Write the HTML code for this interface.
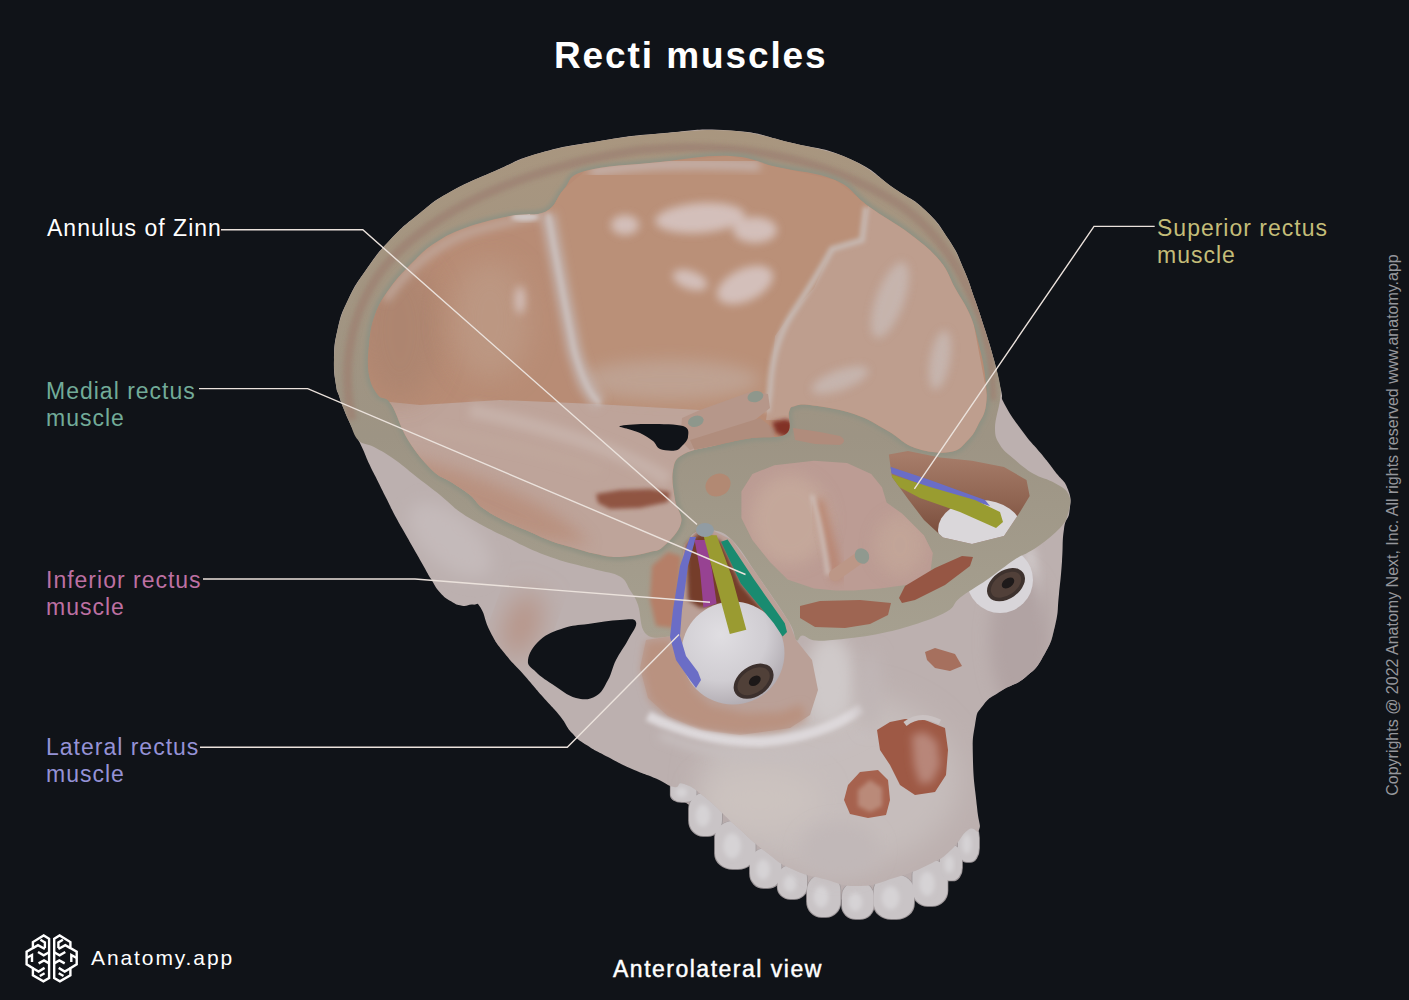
<!DOCTYPE html>
<html><head><meta charset="utf-8">
<style>
html,body{margin:0;padding:0;background:#101318;}
body{width:1409px;height:1000px;position:relative;overflow:hidden;font-family:"Liberation Sans",sans-serif;}
.t{position:absolute;white-space:nowrap;line-height:1;}
.lbl{font-size:23px;letter-spacing:1px;line-height:26.5px;}
#title{left:554px;top:36.5px;font-size:37px;font-weight:bold;color:#fff;letter-spacing:1.9px;}
svg{position:absolute;left:0;top:0;}
</style></head><body>
<svg width="1409" height="1000" viewBox="0 0 1409 1000">
<defs>
<filter id="b2" x="-20%" y="-20%" width="140%" height="140%"><feGaussianBlur stdDeviation="2"/></filter>
<filter id="b4" x="-30%" y="-30%" width="160%" height="160%"><feGaussianBlur stdDeviation="4"/></filter>
<filter id="b8" x="-50%" y="-50%" width="200%" height="200%"><feGaussianBlur stdDeviation="8"/></filter>
<filter id="b14" x="-50%" y="-50%" width="200%" height="200%"><feGaussianBlur stdDeviation="14"/></filter>
<clipPath id="cInt"><path d="M369.0,375.0 C367.2,365.0 367.8,357.0 369.0,345.0 C370.2,333.0 370.8,326.4 375.0,315.0 C379.2,303.6 382.2,298.8 390.0,288.0 C397.8,277.2 405.0,270.0 414.0,261.0 C423.0,252.0 424.8,249.6 435.0,243.0 C445.2,236.4 450.0,233.4 465.0,228.0 C480.0,222.6 493.8,219.3 510.0,216.0 C526.2,212.7 535.2,216.9 546.0,211.5 C556.8,206.1 556.2,197.1 564.0,189.0 C571.8,180.9 565.8,176.4 585.0,171.0 C604.2,165.6 631.0,165.0 660.0,162.0 C689.0,159.0 706.6,155.0 730.0,156.0 C753.4,157.0 756.0,162.2 777.0,167.0 C798.0,171.8 816.8,172.2 835.0,180.0 C853.2,187.8 853.0,195.2 868.0,206.0 C883.0,216.8 895.6,223.0 910.0,234.0 C924.4,245.0 931.0,250.2 940.0,261.0 C949.0,271.8 949.0,277.2 955.0,288.0 C961.0,298.8 965.2,303.6 970.0,315.0 C974.8,326.4 976.0,333.0 979.0,345.0 C982.0,357.0 983.6,363.0 985.0,375.0 C986.4,387.0 987.4,395.0 986.0,405.0 C984.6,415.0 981.6,418.0 978.0,425.0 C974.4,432.0 973.6,434.6 968.0,440.0 C962.4,445.4 960.6,450.4 950.0,452.0 C939.4,453.6 927.4,452.2 915.0,448.0 C902.6,443.8 900.2,437.8 888.0,431.0 C875.8,424.2 869.0,419.1 854.0,414.0 C839.0,408.9 824.8,407.1 813.0,405.5 C801.2,403.9 799.8,404.7 795.0,406.0 C790.2,407.3 790.8,406.4 789.0,412.0 C787.2,417.6 793.4,428.8 786.0,434.0 C778.6,439.2 765.6,435.8 752.0,438.0 C738.4,440.2 731.6,441.8 718.0,445.0 C704.4,448.2 693.0,449.0 684.0,454.0 C675.0,459.0 674.8,460.8 673.0,470.0 C671.2,479.2 673.4,489.4 675.0,500.0 C676.6,510.6 683.2,513.8 681.0,523.0 C678.8,532.2 670.2,540.2 664.0,546.0 C657.8,551.8 658.8,549.8 650.0,552.0 C641.2,554.2 630.8,556.6 620.0,557.0 C609.2,557.4 605.2,555.8 596.0,554.0 C586.8,552.2 583.0,550.6 574.0,548.0 C565.0,545.4 560.2,544.4 551.0,541.0 C541.8,537.6 537.2,535.0 528.0,531.0 C518.8,527.0 514.1,525.6 505.0,521.0 C495.9,516.4 489.7,513.2 482.7,508.0 C475.7,502.8 476.3,500.2 470.0,495.0 C463.7,489.8 458.6,487.0 451.0,482.0 C443.4,477.0 440.6,478.4 432.0,470.0 C423.4,461.6 416.2,453.2 408.0,440.0 C399.8,426.8 397.0,413.0 391.0,404.0 C385.0,395.0 382.4,400.8 378.0,395.0 C373.6,389.2 370.8,385.0 369.0,375.0 Z"/></clipPath>
<clipPath id="cCut"><path d="M338.8,395.0 C337.4,390.5 337.0,392.0 336.0,385.0 C335.0,378.0 333.7,371.0 334.0,360.0 C334.3,349.0 334.7,342.0 337.5,330.0 C340.3,318.0 342.3,312.0 348.0,300.0 C353.7,288.0 357.6,282.0 366.0,270.0 C374.4,258.0 379.2,251.4 390.0,240.0 C400.8,228.6 408.0,222.6 420.0,213.0 C432.0,203.4 435.0,200.4 450.0,192.0 C465.0,183.6 477.0,178.8 495.0,171.0 C513.0,163.2 519.0,159.0 540.0,153.0 C561.0,147.0 576.0,144.9 600.0,141.0 C624.0,137.1 634.0,135.6 660.0,133.5 C686.0,131.4 704.0,128.7 730.0,130.5 C756.0,132.3 766.0,136.8 790.0,142.5 C814.0,148.2 829.0,149.7 850.0,159.0 C871.0,168.3 880.0,178.8 895.0,189.0 C910.0,199.2 914.2,199.8 925.0,210.0 C935.8,220.2 941.2,228.0 949.0,240.0 C956.8,252.0 958.8,258.0 964.0,270.0 C969.2,282.0 970.8,288.0 975.0,300.0 C979.2,312.0 981.2,318.0 985.0,330.0 C988.8,342.0 991.0,349.0 994.0,360.0 C997.0,371.0 998.8,377.0 1000.0,385.0 C1001.2,393.0 1001.0,391.4 1000.0,400.0 C999.0,408.6 995.0,419.0 995.0,428.0 C995.0,437.0 996.2,438.8 1000.0,445.0 C1003.8,451.2 1007.4,453.3 1014.0,459.0 C1020.6,464.7 1024.9,468.7 1033.0,473.5 C1041.1,478.3 1047.5,478.7 1054.7,483.0 C1061.9,487.3 1066.3,488.8 1069.0,495.0 C1071.7,501.2 1069.8,507.4 1068.0,514.0 C1066.2,520.6 1065.6,521.8 1060.0,528.0 C1054.4,534.2 1046.5,540.1 1040.0,545.0 C1033.5,549.9 1032.7,549.7 1027.5,552.7 C1022.3,555.7 1022.1,554.6 1014.0,560.0 C1005.9,565.4 997.8,572.2 987.0,579.7 C976.2,587.2 968.0,591.3 960.0,597.7 C952.0,604.1 956.4,606.0 947.0,611.5 C937.6,617.0 926.6,620.6 913.0,625.0 C899.4,629.4 892.6,630.9 879.0,633.7 C865.4,636.5 857.6,637.4 845.0,638.8 C832.4,640.2 824.5,641.2 816.0,640.5 C807.5,639.8 806.6,635.5 802.6,635.4 C798.6,635.3 798.7,642.7 796.0,640.0 C793.3,637.3 796.6,634.8 789.0,622.0 C781.4,609.2 769.4,592.4 758.0,576.0 C746.6,559.6 741.2,549.2 732.0,540.0 C722.8,530.8 719.2,531.6 712.0,530.0 C704.8,528.4 700.8,529.6 696.0,532.0 C691.2,534.4 690.4,536.4 688.0,542.0 C685.6,547.6 686.0,548.4 684.0,560.0 C682.0,571.6 679.6,586.0 678.0,600.0 C676.4,614.0 678.6,622.6 676.0,630.0 C673.4,637.4 671.2,636.4 665.0,637.0 C658.8,637.6 650.4,639.4 645.0,633.0 C639.6,626.6 641.0,613.6 638.0,605.0 C635.0,596.4 633.6,595.7 630.0,590.0 C626.4,584.3 626.8,580.6 620.0,576.5 C613.2,572.4 605.3,572.2 596.0,569.7 C586.7,567.2 582.6,566.5 573.6,564.0 C564.6,561.5 560.1,560.4 551.0,557.2 C541.9,554.0 537.1,552.1 528.0,548.0 C518.9,543.9 514.5,541.3 505.4,536.8 C496.3,532.3 491.8,530.4 482.7,525.4 C473.6,520.4 468.5,518.1 460.0,512.0 C451.5,505.9 448.4,501.8 440.0,495.0 C431.6,488.2 426.8,484.9 418.0,478.0 C409.2,471.1 404.8,466.6 396.0,460.4 C387.2,454.2 381.5,451.0 374.0,447.0 C366.5,443.0 363.4,445.4 358.6,440.6 C353.8,435.8 352.9,429.6 349.8,423.0 C346.7,416.4 345.4,413.2 343.2,407.6 C341.0,402.0 340.2,399.5 338.8,395.0 Z"/></clipPath>
<clipPath id="cSil"><path d="M334.0,360.0 C334.4,345.3 333.8,346.0 337.5,330.0 C341.2,314.0 340.4,316.0 348.0,300.0 C355.6,284.0 354.8,286.0 366.0,270.0 C377.2,254.0 375.6,255.2 390.0,240.0 C404.4,224.8 404.0,225.8 420.0,213.0 C436.0,200.2 430.0,203.2 450.0,192.0 C470.0,180.8 471.0,181.4 495.0,171.0 C519.0,160.6 512.0,161.0 540.0,153.0 C568.0,145.0 568.0,146.2 600.0,141.0 C632.0,135.8 625.3,136.3 660.0,133.5 C694.7,130.7 695.3,128.1 730.0,130.5 C764.7,132.9 758.0,134.9 790.0,142.5 C822.0,150.1 822.0,146.6 850.0,159.0 C878.0,171.4 875.0,175.4 895.0,189.0 C915.0,202.6 910.6,196.4 925.0,210.0 C939.4,223.6 938.6,224.0 949.0,240.0 C959.4,256.0 957.1,254.0 964.0,270.0 C970.9,286.0 969.4,284.0 975.0,300.0 C980.6,316.0 979.9,314.0 985.0,330.0 C990.1,346.0 989.7,344.0 994.0,360.0 C998.3,376.0 998.1,378.0 1001.0,390.0 C1003.9,402.0 999.1,393.8 1005.0,405.0 C1010.9,416.2 1013.4,419.0 1023.0,432.0 C1032.6,445.0 1032.5,443.1 1041.0,453.6 C1049.5,464.1 1047.8,461.9 1055.0,471.5 C1062.2,481.1 1064.1,479.0 1068.0,489.5 C1071.9,500.0 1070.6,500.5 1069.5,511.0 C1068.4,521.5 1066.0,515.5 1064.0,529.0 C1062.0,542.5 1063.3,544.2 1062.0,561.5 C1060.7,578.8 1060.9,576.8 1059.0,594.0 C1057.1,611.2 1059.0,609.7 1055.0,626.0 C1051.0,642.3 1051.7,641.5 1044.0,655.0 C1036.3,668.5 1037.5,667.1 1026.0,676.7 C1014.5,686.3 1012.5,683.3 1001.0,691.0 C989.5,698.7 989.9,696.4 983.0,705.5 C976.1,714.6 977.7,709.9 975.0,725.0 C972.3,740.1 972.5,740.1 973.0,762.0 C973.5,783.9 975.4,788.9 977.0,807.0 C978.6,825.1 981.4,823.9 979.0,830.0 C976.6,836.1 975.5,824.7 968.0,830.0 C960.5,835.3 961.1,840.9 951.0,850.0 C940.9,859.1 945.2,856.5 930.0,864.0 C914.8,871.5 913.2,872.1 894.0,878.0 C874.8,883.9 876.7,885.7 858.0,886.0 C839.3,886.3 841.6,883.5 824.0,879.0 C806.4,874.5 807.5,876.2 792.0,869.0 C776.5,861.8 781.2,863.7 766.0,852.0 C750.8,840.3 751.0,839.4 735.0,825.0 C719.0,810.6 719.6,808.9 706.0,798.0 C692.4,787.1 692.5,786.9 684.0,784.0 C675.5,781.1 681.5,788.5 674.0,787.0 C666.5,785.5 667.2,783.3 656.0,778.5 C644.8,773.7 644.8,774.7 632.0,769.0 C619.2,763.3 620.1,763.4 608.0,757.0 C595.9,750.6 596.1,751.4 586.5,745.0 C576.9,738.6 579.1,740.7 572.0,733.0 C564.9,725.3 567.7,725.6 560.0,716.0 C552.3,706.4 552.6,707.9 543.0,697.0 C533.4,686.1 534.2,686.6 524.0,675.0 C513.8,663.4 513.8,665.1 504.8,653.6 C495.8,642.1 496.8,644.2 490.4,632.0 C484.0,619.8 485.4,615.3 480.8,608.0 C476.2,600.7 478.0,605.2 473.0,604.6 C468.0,604.0 467.9,606.6 462.0,605.7 C456.1,604.8 456.9,604.8 451.0,601.3 C445.1,597.8 445.3,598.4 440.0,592.5 C434.7,586.6 435.9,586.9 431.2,579.3 C426.5,571.7 427.1,572.1 422.4,563.9 C417.7,555.7 418.3,556.7 413.6,548.5 C408.9,540.3 409.5,541.2 404.8,533.0 C400.1,524.8 400.7,526.4 396.0,517.6 C391.3,508.8 391.9,509.4 387.2,500.0 C382.5,490.6 383.1,491.8 378.4,482.4 C373.7,473.0 373.7,473.6 369.6,464.8 C365.5,456.0 366.5,457.0 363.0,449.4 C359.5,441.8 359.9,443.2 356.4,436.2 C352.9,429.2 353.3,430.6 349.8,423.0 C346.3,415.4 346.1,415.1 343.2,407.6 C340.3,400.1 340.7,401.0 338.8,395.0 C336.9,389.0 337.3,394.3 336.0,385.0 C334.7,375.7 333.6,374.7 334.0,360.0 Z"/></clipPath>
</defs>
<g id="skull">
<polyline fill="none" stroke="#b8acac" stroke-width="18" stroke-linejoin="round" points="683.6,790.5 705.5,805.0 735.3,833.0 765.7,860.6 792.4,877.0 823.8,886.5 857.9,894.0 893.9,886.5 930.0,871.7 951.0,857.0 968.5,835.0"/>
<g>
<rect x="669.9000000000001" y="778.5" width="27.399999999999956" height="24.3" rx="11.6" ry="7.9" fill="#9f989a"/>
<rect x="688.2" y="793" width="34.6" height="43.8" rx="14.8" ry="16.0" fill="#9f989a"/>
<rect x="714.2" y="821" width="42.200000000000024" height="48.8" rx="18.3" ry="16.0" fill="#9f989a"/>
<rect x="749.2" y="848.6" width="32.99999999999998" height="40.199999999999974" rx="14.1" ry="15.0" fill="#9f989a"/>
<rect x="776.9000000000001" y="865" width="30.899999999999956" height="34.8" rx="13.2" ry="12.6" fill="#9f989a"/>
<rect x="806.2" y="874.5" width="35.1" height="43.3" rx="15.1" ry="16.0" fill="#9f989a"/>
<rect x="841.2" y="882" width="33.30000000000005" height="37.8" rx="14.3" ry="14.0" fill="#9f989a"/>
<rect x="872.9000000000001" y="874.5" width="41.899999999999956" height="45.3" rx="18.1" ry="16.0" fill="#9f989a"/>
<rect x="911.6" y="859.7" width="36.700000000000024" height="47.09999999999995" rx="15.8" ry="16.0" fill="#9f989a"/>
<rect x="939.2" y="845" width="23.6" height="36.3" rx="9.9" ry="13.3" fill="#9f989a"/>
<rect x="957.2" y="823" width="22.6" height="39.8" rx="9.5" ry="14.8" fill="#9f989a"/>
<rect x="670.7" y="778.5" width="25.799999999999955" height="23.5" rx="11.6" ry="7.9" fill="#C9C4C6"/>
<ellipse cx="681.5" cy="792.4" rx="5.7" ry="5.2" fill="#D6D3D5" filter="url(#b2)"/>
<rect x="689" y="793" width="33" height="43" rx="14.8" ry="16.0" fill="#C9C4C6"/>
<ellipse cx="702.9" cy="815.6" rx="7.3" ry="11.1" fill="#D6D3D5" filter="url(#b2)"/>
<rect x="715" y="821" width="40.60000000000002" height="48" rx="18.3" ry="16.0" fill="#C9C4C6"/>
<ellipse cx="732.1" cy="845.9" rx="8.9" ry="12.6" fill="#D6D3D5" filter="url(#b2)"/>
<rect x="750" y="848.6" width="31.399999999999977" height="39.39999999999998" rx="14.1" ry="15.0" fill="#C9C4C6"/>
<ellipse cx="763.2" cy="869.6" rx="6.9" ry="10.0" fill="#D6D3D5" filter="url(#b2)"/>
<rect x="777.7" y="865" width="29.299999999999955" height="34" rx="13.2" ry="12.6" fill="#C9C4C6"/>
<ellipse cx="790.0" cy="883.6" rx="6.4" ry="8.4" fill="#D6D3D5" filter="url(#b2)"/>
<rect x="807" y="874.5" width="33.5" height="42.5" rx="15.1" ry="16.0" fill="#C9C4C6"/>
<ellipse cx="821.1" cy="896.9" rx="7.4" ry="10.9" fill="#D6D3D5" filter="url(#b2)"/>
<rect x="842" y="882" width="31.700000000000045" height="37" rx="14.3" ry="14.0" fill="#C9C4C6"/>
<ellipse cx="855.3" cy="902.0" rx="7.0" ry="9.3" fill="#D6D3D5" filter="url(#b2)"/>
<rect x="873.7" y="874.5" width="40.299999999999955" height="44.5" rx="18.1" ry="16.0" fill="#C9C4C6"/>
<ellipse cx="890.6" cy="897.8" rx="8.9" ry="11.5" fill="#D6D3D5" filter="url(#b2)"/>
<rect x="912.4" y="859.7" width="35.10000000000002" height="46.299999999999955" rx="15.8" ry="16.0" fill="#C9C4C6"/>
<ellipse cx="927.1" cy="883.8" rx="7.7" ry="12.1" fill="#D6D3D5" filter="url(#b2)"/>
<rect x="940" y="845" width="22" height="35.5" rx="9.9" ry="13.3" fill="#C9C4C6"/>
<ellipse cx="949.2" cy="864.3" rx="4.8" ry="8.8" fill="#D6D3D5" filter="url(#b2)"/>
<rect x="958" y="823" width="21" height="39" rx="9.5" ry="14.8" fill="#C9C4C6"/>
<ellipse cx="966.8" cy="843.9" rx="4.6" ry="9.9" fill="#D6D3D5" filter="url(#b2)"/>
</g>
<path fill="#bcb0af" d="M334.0,360.0 C334.4,345.3 333.8,346.0 337.5,330.0 C341.2,314.0 340.4,316.0 348.0,300.0 C355.6,284.0 354.8,286.0 366.0,270.0 C377.2,254.0 375.6,255.2 390.0,240.0 C404.4,224.8 404.0,225.8 420.0,213.0 C436.0,200.2 430.0,203.2 450.0,192.0 C470.0,180.8 471.0,181.4 495.0,171.0 C519.0,160.6 512.0,161.0 540.0,153.0 C568.0,145.0 568.0,146.2 600.0,141.0 C632.0,135.8 625.3,136.3 660.0,133.5 C694.7,130.7 695.3,128.1 730.0,130.5 C764.7,132.9 758.0,134.9 790.0,142.5 C822.0,150.1 822.0,146.6 850.0,159.0 C878.0,171.4 875.0,175.4 895.0,189.0 C915.0,202.6 910.6,196.4 925.0,210.0 C939.4,223.6 938.6,224.0 949.0,240.0 C959.4,256.0 957.1,254.0 964.0,270.0 C970.9,286.0 969.4,284.0 975.0,300.0 C980.6,316.0 979.9,314.0 985.0,330.0 C990.1,346.0 989.7,344.0 994.0,360.0 C998.3,376.0 998.1,378.0 1001.0,390.0 C1003.9,402.0 999.1,393.8 1005.0,405.0 C1010.9,416.2 1013.4,419.0 1023.0,432.0 C1032.6,445.0 1032.5,443.1 1041.0,453.6 C1049.5,464.1 1047.8,461.9 1055.0,471.5 C1062.2,481.1 1064.1,479.0 1068.0,489.5 C1071.9,500.0 1070.6,500.5 1069.5,511.0 C1068.4,521.5 1066.0,515.5 1064.0,529.0 C1062.0,542.5 1063.3,544.2 1062.0,561.5 C1060.7,578.8 1060.9,576.8 1059.0,594.0 C1057.1,611.2 1059.0,609.7 1055.0,626.0 C1051.0,642.3 1051.7,641.5 1044.0,655.0 C1036.3,668.5 1037.5,667.1 1026.0,676.7 C1014.5,686.3 1012.5,683.3 1001.0,691.0 C989.5,698.7 989.9,696.4 983.0,705.5 C976.1,714.6 977.7,709.9 975.0,725.0 C972.3,740.1 972.5,740.1 973.0,762.0 C973.5,783.9 975.4,788.9 977.0,807.0 C978.6,825.1 981.4,823.9 979.0,830.0 C976.6,836.1 975.5,824.7 968.0,830.0 C960.5,835.3 961.1,840.9 951.0,850.0 C940.9,859.1 945.2,856.5 930.0,864.0 C914.8,871.5 913.2,872.1 894.0,878.0 C874.8,883.9 876.7,885.7 858.0,886.0 C839.3,886.3 841.6,883.5 824.0,879.0 C806.4,874.5 807.5,876.2 792.0,869.0 C776.5,861.8 781.2,863.7 766.0,852.0 C750.8,840.3 751.0,839.4 735.0,825.0 C719.0,810.6 719.6,808.9 706.0,798.0 C692.4,787.1 692.5,786.9 684.0,784.0 C675.5,781.1 681.5,788.5 674.0,787.0 C666.5,785.5 667.2,783.3 656.0,778.5 C644.8,773.7 644.8,774.7 632.0,769.0 C619.2,763.3 620.1,763.4 608.0,757.0 C595.9,750.6 596.1,751.4 586.5,745.0 C576.9,738.6 579.1,740.7 572.0,733.0 C564.9,725.3 567.7,725.6 560.0,716.0 C552.3,706.4 552.6,707.9 543.0,697.0 C533.4,686.1 534.2,686.6 524.0,675.0 C513.8,663.4 513.8,665.1 504.8,653.6 C495.8,642.1 496.8,644.2 490.4,632.0 C484.0,619.8 485.4,615.3 480.8,608.0 C476.2,600.7 478.0,605.2 473.0,604.6 C468.0,604.0 467.9,606.6 462.0,605.7 C456.1,604.8 456.9,604.8 451.0,601.3 C445.1,597.8 445.3,598.4 440.0,592.5 C434.7,586.6 435.9,586.9 431.2,579.3 C426.5,571.7 427.1,572.1 422.4,563.9 C417.7,555.7 418.3,556.7 413.6,548.5 C408.9,540.3 409.5,541.2 404.8,533.0 C400.1,524.8 400.7,526.4 396.0,517.6 C391.3,508.8 391.9,509.4 387.2,500.0 C382.5,490.6 383.1,491.8 378.4,482.4 C373.7,473.0 373.7,473.6 369.6,464.8 C365.5,456.0 366.5,457.0 363.0,449.4 C359.5,441.8 359.9,443.2 356.4,436.2 C352.9,429.2 353.3,430.6 349.8,423.0 C346.3,415.4 346.1,415.1 343.2,407.6 C340.3,400.1 340.7,401.0 338.8,395.0 C336.9,389.0 337.3,394.3 336.0,385.0 C334.7,375.7 333.6,374.7 334.0,360.0 Z"/>
<g clip-path="url(#cSil)">
<ellipse cx="830" cy="780" rx="130" ry="90" fill="#c6bdbc" filter="url(#b14)"/>
<ellipse cx="830" cy="680" rx="25" ry="45" fill="#cfc9c9" filter="url(#b8)"/>
<ellipse cx="760" cy="800" rx="60" ry="30" fill="#ccc3bf" filter="url(#b14)"/>
<ellipse cx="1030" cy="590" rx="10" ry="45" fill="#cdc6c6" filter="url(#b4)"/>
<ellipse cx="1020" cy="640" rx="30" ry="70" fill="#b1a3a3" filter="url(#b8)"/>
<ellipse cx="450" cy="540" rx="50" ry="25" fill="#c4baba" filter="url(#b8)" transform="rotate(40 450 540)"/>
<ellipse cx="522" cy="625" rx="16" ry="34" fill="#b69183" filter="url(#b14)" transform="rotate(20 522 625)"/>
</g>
<circle cx="1000" cy="580" r="33" fill="#D8D5D9"/>
<ellipse cx="1006" cy="584.7" rx="21" ry="14" transform="rotate(-35 1006 584.7)" fill="#3e322e"/>
<ellipse cx="1006" cy="584.7" rx="17" ry="10.5" transform="rotate(-35 1006 584.7)" fill="#514039"/>
<ellipse cx="1008" cy="583" rx="7" ry="4.5" transform="rotate(-35 1008 583)" fill="#1e1a1a"/>
<linearGradient id="cutg" x1="0" y1="130" x2="0" y2="640" gradientUnits="userSpaceOnUse"><stop offset="0" stop-color="#A9967F"/><stop offset="0.6" stop-color="#9D9484"/><stop offset="1" stop-color="#A6A090"/></linearGradient>
<path fill="url(#cutg)" d="M338.8,395.0 C337.4,390.5 337.0,392.0 336.0,385.0 C335.0,378.0 333.7,371.0 334.0,360.0 C334.3,349.0 334.7,342.0 337.5,330.0 C340.3,318.0 342.3,312.0 348.0,300.0 C353.7,288.0 357.6,282.0 366.0,270.0 C374.4,258.0 379.2,251.4 390.0,240.0 C400.8,228.6 408.0,222.6 420.0,213.0 C432.0,203.4 435.0,200.4 450.0,192.0 C465.0,183.6 477.0,178.8 495.0,171.0 C513.0,163.2 519.0,159.0 540.0,153.0 C561.0,147.0 576.0,144.9 600.0,141.0 C624.0,137.1 634.0,135.6 660.0,133.5 C686.0,131.4 704.0,128.7 730.0,130.5 C756.0,132.3 766.0,136.8 790.0,142.5 C814.0,148.2 829.0,149.7 850.0,159.0 C871.0,168.3 880.0,178.8 895.0,189.0 C910.0,199.2 914.2,199.8 925.0,210.0 C935.8,220.2 941.2,228.0 949.0,240.0 C956.8,252.0 958.8,258.0 964.0,270.0 C969.2,282.0 970.8,288.0 975.0,300.0 C979.2,312.0 981.2,318.0 985.0,330.0 C988.8,342.0 991.0,349.0 994.0,360.0 C997.0,371.0 998.8,377.0 1000.0,385.0 C1001.2,393.0 1001.0,391.4 1000.0,400.0 C999.0,408.6 995.0,419.0 995.0,428.0 C995.0,437.0 996.2,438.8 1000.0,445.0 C1003.8,451.2 1007.4,453.3 1014.0,459.0 C1020.6,464.7 1024.9,468.7 1033.0,473.5 C1041.1,478.3 1047.5,478.7 1054.7,483.0 C1061.9,487.3 1066.3,488.8 1069.0,495.0 C1071.7,501.2 1069.8,507.4 1068.0,514.0 C1066.2,520.6 1065.6,521.8 1060.0,528.0 C1054.4,534.2 1046.5,540.1 1040.0,545.0 C1033.5,549.9 1032.7,549.7 1027.5,552.7 C1022.3,555.7 1022.1,554.6 1014.0,560.0 C1005.9,565.4 997.8,572.2 987.0,579.7 C976.2,587.2 968.0,591.3 960.0,597.7 C952.0,604.1 956.4,606.0 947.0,611.5 C937.6,617.0 926.6,620.6 913.0,625.0 C899.4,629.4 892.6,630.9 879.0,633.7 C865.4,636.5 857.6,637.4 845.0,638.8 C832.4,640.2 824.5,641.2 816.0,640.5 C807.5,639.8 806.6,635.5 802.6,635.4 C798.6,635.3 798.7,642.7 796.0,640.0 C793.3,637.3 796.6,634.8 789.0,622.0 C781.4,609.2 769.4,592.4 758.0,576.0 C746.6,559.6 741.2,549.2 732.0,540.0 C722.8,530.8 719.2,531.6 712.0,530.0 C704.8,528.4 700.8,529.6 696.0,532.0 C691.2,534.4 690.4,536.4 688.0,542.0 C685.6,547.6 686.0,548.4 684.0,560.0 C682.0,571.6 679.6,586.0 678.0,600.0 C676.4,614.0 678.6,622.6 676.0,630.0 C673.4,637.4 671.2,636.4 665.0,637.0 C658.8,637.6 650.4,639.4 645.0,633.0 C639.6,626.6 641.0,613.6 638.0,605.0 C635.0,596.4 633.6,595.7 630.0,590.0 C626.4,584.3 626.8,580.6 620.0,576.5 C613.2,572.4 605.3,572.2 596.0,569.7 C586.7,567.2 582.6,566.5 573.6,564.0 C564.6,561.5 560.1,560.4 551.0,557.2 C541.9,554.0 537.1,552.1 528.0,548.0 C518.9,543.9 514.5,541.3 505.4,536.8 C496.3,532.3 491.8,530.4 482.7,525.4 C473.6,520.4 468.5,518.1 460.0,512.0 C451.5,505.9 448.4,501.8 440.0,495.0 C431.6,488.2 426.8,484.9 418.0,478.0 C409.2,471.1 404.8,466.6 396.0,460.4 C387.2,454.2 381.5,451.0 374.0,447.0 C366.5,443.0 363.4,445.4 358.6,440.6 C353.8,435.8 352.9,429.6 349.8,423.0 C346.7,416.4 345.4,413.2 343.2,407.6 C341.0,402.0 340.2,399.5 338.8,395.0 Z"/>
<path d="M352,420 C340,360 352,300 395,255 C450,200 540,165 640,150 C740,140 830,160 900,205 C950,240 980,300 990,360 L992,400" fill="none" stroke="#9e8474" stroke-width="9" filter="url(#b2)" opacity="0.9" clip-path="url(#cCut)"/>
<path fill="none" stroke="#909283" stroke-width="7" d="M369.0,375.0 C367.2,365.0 367.8,357.0 369.0,345.0 C370.2,333.0 370.8,326.4 375.0,315.0 C379.2,303.6 382.2,298.8 390.0,288.0 C397.8,277.2 405.0,270.0 414.0,261.0 C423.0,252.0 424.8,249.6 435.0,243.0 C445.2,236.4 450.0,233.4 465.0,228.0 C480.0,222.6 493.8,219.3 510.0,216.0 C526.2,212.7 535.2,216.9 546.0,211.5 C556.8,206.1 556.2,197.1 564.0,189.0 C571.8,180.9 565.8,176.4 585.0,171.0 C604.2,165.6 631.0,165.0 660.0,162.0 C689.0,159.0 706.6,155.0 730.0,156.0 C753.4,157.0 756.0,162.2 777.0,167.0 C798.0,171.8 816.8,172.2 835.0,180.0 C853.2,187.8 853.0,195.2 868.0,206.0 C883.0,216.8 895.6,223.0 910.0,234.0 C924.4,245.0 931.0,250.2 940.0,261.0 C949.0,271.8 949.0,277.2 955.0,288.0 C961.0,298.8 965.2,303.6 970.0,315.0 C974.8,326.4 976.0,333.0 979.0,345.0 C982.0,357.0 983.6,363.0 985.0,375.0 C986.4,387.0 987.4,395.0 986.0,405.0 C984.6,415.0 981.6,418.0 978.0,425.0 C974.4,432.0 973.6,434.6 968.0,440.0 C962.4,445.4 960.6,450.4 950.0,452.0 C939.4,453.6 927.4,452.2 915.0,448.0 C902.6,443.8 900.2,437.8 888.0,431.0 C875.8,424.2 869.0,419.1 854.0,414.0 C839.0,408.9 824.8,407.1 813.0,405.5 C801.2,403.9 799.8,404.7 795.0,406.0 C790.2,407.3 790.8,406.4 789.0,412.0 C787.2,417.6 793.4,428.8 786.0,434.0 C778.6,439.2 765.6,435.8 752.0,438.0 C738.4,440.2 731.6,441.8 718.0,445.0 C704.4,448.2 693.0,449.0 684.0,454.0 C675.0,459.0 674.8,460.8 673.0,470.0 C671.2,479.2 673.4,489.4 675.0,500.0 C676.6,510.6 683.2,513.8 681.0,523.0 C678.8,532.2 670.2,540.2 664.0,546.0 C657.8,551.8 658.8,549.8 650.0,552.0 C641.2,554.2 630.8,556.6 620.0,557.0 C609.2,557.4 605.2,555.8 596.0,554.0 C586.8,552.2 583.0,550.6 574.0,548.0 C565.0,545.4 560.2,544.4 551.0,541.0 C541.8,537.6 537.2,535.0 528.0,531.0 C518.8,527.0 514.1,525.6 505.0,521.0 C495.9,516.4 489.7,513.2 482.7,508.0 C475.7,502.8 476.3,500.2 470.0,495.0 C463.7,489.8 458.6,487.0 451.0,482.0 C443.4,477.0 440.6,478.4 432.0,470.0 C423.4,461.6 416.2,453.2 408.0,440.0 C399.8,426.8 397.0,413.0 391.0,404.0 C385.0,395.0 382.4,400.8 378.0,395.0 C373.6,389.2 370.8,385.0 369.0,375.0 Z" filter="url(#b2)"/>
<path fill="#b88c75" d="M369.0,375.0 C367.2,365.0 367.8,357.0 369.0,345.0 C370.2,333.0 370.8,326.4 375.0,315.0 C379.2,303.6 382.2,298.8 390.0,288.0 C397.8,277.2 405.0,270.0 414.0,261.0 C423.0,252.0 424.8,249.6 435.0,243.0 C445.2,236.4 450.0,233.4 465.0,228.0 C480.0,222.6 493.8,219.3 510.0,216.0 C526.2,212.7 535.2,216.9 546.0,211.5 C556.8,206.1 556.2,197.1 564.0,189.0 C571.8,180.9 565.8,176.4 585.0,171.0 C604.2,165.6 631.0,165.0 660.0,162.0 C689.0,159.0 706.6,155.0 730.0,156.0 C753.4,157.0 756.0,162.2 777.0,167.0 C798.0,171.8 816.8,172.2 835.0,180.0 C853.2,187.8 853.0,195.2 868.0,206.0 C883.0,216.8 895.6,223.0 910.0,234.0 C924.4,245.0 931.0,250.2 940.0,261.0 C949.0,271.8 949.0,277.2 955.0,288.0 C961.0,298.8 965.2,303.6 970.0,315.0 C974.8,326.4 976.0,333.0 979.0,345.0 C982.0,357.0 983.6,363.0 985.0,375.0 C986.4,387.0 987.4,395.0 986.0,405.0 C984.6,415.0 981.6,418.0 978.0,425.0 C974.4,432.0 973.6,434.6 968.0,440.0 C962.4,445.4 960.6,450.4 950.0,452.0 C939.4,453.6 927.4,452.2 915.0,448.0 C902.6,443.8 900.2,437.8 888.0,431.0 C875.8,424.2 869.0,419.1 854.0,414.0 C839.0,408.9 824.8,407.1 813.0,405.5 C801.2,403.9 799.8,404.7 795.0,406.0 C790.2,407.3 790.8,406.4 789.0,412.0 C787.2,417.6 793.4,428.8 786.0,434.0 C778.6,439.2 765.6,435.8 752.0,438.0 C738.4,440.2 731.6,441.8 718.0,445.0 C704.4,448.2 693.0,449.0 684.0,454.0 C675.0,459.0 674.8,460.8 673.0,470.0 C671.2,479.2 673.4,489.4 675.0,500.0 C676.6,510.6 683.2,513.8 681.0,523.0 C678.8,532.2 670.2,540.2 664.0,546.0 C657.8,551.8 658.8,549.8 650.0,552.0 C641.2,554.2 630.8,556.6 620.0,557.0 C609.2,557.4 605.2,555.8 596.0,554.0 C586.8,552.2 583.0,550.6 574.0,548.0 C565.0,545.4 560.2,544.4 551.0,541.0 C541.8,537.6 537.2,535.0 528.0,531.0 C518.8,527.0 514.1,525.6 505.0,521.0 C495.9,516.4 489.7,513.2 482.7,508.0 C475.7,502.8 476.3,500.2 470.0,495.0 C463.7,489.8 458.6,487.0 451.0,482.0 C443.4,477.0 440.6,478.4 432.0,470.0 C423.4,461.6 416.2,453.2 408.0,440.0 C399.8,426.8 397.0,413.0 391.0,404.0 C385.0,395.0 382.4,400.8 378.0,395.0 C373.6,389.2 370.8,385.0 369.0,375.0 Z"/>
<g clip-path="url(#cInt)">
<path fill="#ba9078" d="M546,211 L564,189 L585,171 L660,162 L730,156 L777,167 L835,180 L868,205 L862,240 L832,249 L814,288 L790,315 L775,336 L770,390 L766,410 L700,410 L596,404 L573,354 Z"/>
<path fill="#be9e8e" d="M868,205 L910,232 L942,260 L972,315 L988,400 L980,460 L880,450 L780,420 L766,420 L770,390 L775,336 L790,315 L814,288 L832,249 L862,240 Z"/>
<path fill="#bea49a" d="M370,400 L420,405 L500,400 L596,404 L700,410 L740,430 L700,455 L680,460 L676,500 L686,530 L662,552 L620,562 L520,540 L440,490 L390,440 Z"/>
<ellipse cx="400" cy="330" rx="40" ry="70" fill="#ab846f" filter="url(#b14)" opacity="0.8"/>
<ellipse cx="490" cy="320" rx="40" ry="60" fill="#be9c88" filter="url(#b14)" opacity="0.7"/>
<path d="M385,300 Q420,250 470,232 Q510,220 545,214" fill="none" stroke="#c0a89c" stroke-width="8" filter="url(#b4)"/>
<path d="M590,172 Q660,160 760,166" fill="none" stroke="#c4b1aa" stroke-width="10" filter="url(#b4)"/>
<ellipse cx="525" cy="217" rx="14" ry="4" fill="#d0c8c6" filter="url(#b2)"/>
<g fill="#D8C8C6" filter="url(#b4)" opacity="0.85">
<ellipse cx="700" cy="218" rx="45" ry="15" transform="rotate(-4 700 218)"/>
<ellipse cx="755" cy="230" rx="22" ry="13"/>
<ellipse cx="745" cy="285" rx="30" ry="16" transform="rotate(-25 745 285)"/>
<ellipse cx="690" cy="280" rx="18" ry="9" transform="rotate(20 690 280)"/>
<ellipse cx="520" cy="300" rx="5" ry="14"/>
<ellipse cx="625" cy="225" rx="14" ry="10"/>
</g>
<ellipse cx="670" cy="380" rx="90" ry="20" fill="#c0a698" filter="url(#b8)" opacity="0.8"/>
<path d="M548,214 Q560,280 574,350 Q585,390 600,404" fill="none" stroke="#c3b3ae" stroke-width="14" filter="url(#b4)"/>
<path d="M548,214 Q560,280 574,350 Q585,390 600,404" fill="none" stroke="#cfc5c2" stroke-width="3" filter="url(#b2)"/>
<path d="M866,207 L862,240 L832,249 Q815,280 792,314 Q772,345 770,390 L767,412" fill="none" stroke="#c6b7b0" stroke-width="6" filter="url(#b2)"/>
<g fill="#c8bab5" filter="url(#b4)" opacity="0.8">
<ellipse cx="890" cy="300" rx="14" ry="40" transform="rotate(20 890 300)"/>
<ellipse cx="940" cy="360" rx="10" ry="30" transform="rotate(10 940 360)"/>
<ellipse cx="840" cy="380" rx="30" ry="10" transform="rotate(-20 840 380)"/>
</g>
<path d="M400,455 Q470,470 530,500 Q570,520 590,545 L540,540 Q470,520 420,480 Z" fill="#b78b77" filter="url(#b8)" opacity="0.75"/>
<path d="M470,410 Q560,430 620,455 Q650,468 668,480" fill="none" stroke="#c6b1a9" stroke-width="14" filter="url(#b4)"/>
<path d="M430,430 Q520,445 600,470" fill="none" stroke="#c0a79c" stroke-width="8" filter="url(#b4)"/>
<path fill="#905442" d="M596,494 L620,490 L650,489 L670,492 L668,502 L640,508 L610,509 L598,503 Z" filter="url(#b2)"/>
<path fill="#b6978a" d="M682,418 L700,410 L750,392 L768,394 L770,408 L755,420 L720,438 L690,450 L680,440 Z"/>
<path fill="#b08d7d" d="M690,440 L760,418 L775,430 L770,462 L730,460 L700,462 Z"/>
<ellipse cx="695.8" cy="421.3" rx="8" ry="5.5" fill="#8e978c" transform="rotate(-15 695.8 421.3)"/>
<ellipse cx="755.4" cy="396.6" rx="8" ry="5.5" fill="#8e978c" transform="rotate(-15 755.4 396.6)"/>
<path fill="#823226" d="M772,422 L786,419 L801,426 L805,437 L790,439 L776,433 Z" filter="url(#b2)"/>
</g>
<path fill="#b08c7c" d="M793,428 L820,432 L840,436 Q848,441 840,445 L815,444 L795,440 Z"/>
<path fill="#bc9c94" d="M741.4,491.6 L752.4,474 L774.4,465.2 L814,460.8 L847,463 L871.2,474 L882,487.2 L886.6,502.6 L902,513.6 L924,535.6 L932.8,553 L930.6,570.8 L913,584 L880,588.4 L853.6,590.6 L836,590.6 L814,588.4 L787.6,579.6 L770,562 L752.4,540 L741.4,518 Z"/>
<clipPath id="cCen"><path d="M741.4,491.6 L752.4,474 L774.4,465.2 L814,460.8 L847,463 L871.2,474 L882,487.2 L886.6,502.6 L902,513.6 L924,535.6 L932.8,553 L930.6,570.8 L913,584 L880,588.4 L853.6,590.6 L836,590.6 L814,588.4 L787.6,579.6 L770,562 L752.4,540 L741.4,518 Z"/></clipPath>
<g clip-path="url(#cCen)">
<ellipse cx="790" cy="520" rx="40" ry="45" fill="#c6aa9c" filter="url(#b8)" opacity="0.8"/>
<ellipse cx="900" cy="545" rx="25" ry="30" fill="#c4a89a" filter="url(#b8)" opacity="0.7"/>
<path d="M818,500 Q830,540 838,580" fill="none" stroke="#b88069" stroke-width="10" filter="url(#b4)" opacity="0.8"/>
<path d="M812,495 Q822,530 828,575" fill="none" stroke="#cec0ba" stroke-width="4" filter="url(#b2)"/>
<path d="M835,575 L862,556" fill="none" stroke="#bc9787" stroke-width="12" stroke-linecap="round"/>
<ellipse cx="862" cy="556" rx="7" ry="8" fill="#90998f" transform="rotate(-30 862 556)"/>
</g>
<ellipse cx="718" cy="485" rx="13" ry="11" fill="#b28973" transform="rotate(-30 718 485)"/>
<linearGradient id="rorbg" x1="0" y1="455" x2="0" y2="545" gradientUnits="userSpaceOnUse"><stop offset="0" stop-color="#a67c69"/><stop offset="0.5" stop-color="#906552"/><stop offset="1" stop-color="#734636"/></linearGradient>
<path fill="url(#rorbg)" d="M888.8,454.4 L908,451 L940,457.6 L972,460.8 L1004,467 L1026.5,480 L1029.7,496 L1020,512 L1004,536 L972,544 L943,537.6 L924,520 L908,499 L892,477 Z"/>
<path fill="#9e6552" d="M800,606 L820,601 L860,600 L891,603 L888,615 L870,624 L845,628 L815,627 L800,618 Z"/>
<path fill="#965644" d="M899,598 L905,586 L935,568 L962,556 L973,557 L970,566 L945,585 L915,600 L902,603 Z"/>
<path fill="#baa097" d="M684,545 L696,532 L712,530 L732,540 L758,576 L789,622 L796,640 L812,660 L818,690 L810,715 L790,728 L740,735 L700,730 L668,716 L648,698 L640,668 L646,640 L672,636 L678,600 Z"/>
<path fill="#b99280" d="M646,642 L668,640 L684,660 L694,690 L710,705 L745,713 L780,712 L802,704 L806,720 L782,730 L740,734 L700,729 L668,716 L650,700 L642,670 Z" filter="url(#b4)"/>
<path fill="#743c2c" d="M686,545 L700,532 L721,541 L741,584 L774,623 L770,632 L745,612 L715,606 L700,608 L688,600 Z" filter="url(#b2)"/>
<path fill="#b57f67" d="M652,566 L668,552 L681,556 L678,600 L674,628 L656,626 L650,600 Z" filter="url(#b2)"/>
<clipPath id="rorb"><path d="M888.8,454.4 L908,451 L940,457.6 L972,460.8 L1004,467 L1026.5,480 L1029.7,496 L1020,512 L1004,536 L972,544 L943,537.6 L924,520 L908,499 L892,477 Z"/></clipPath>
<g clip-path="url(#rorb)">
<ellipse cx="980" cy="530" rx="42" ry="30" fill="#DAD7DA"/>
<path d="M888,466 L930,480 L985,500 L990,506 L930,488 L888,472 Z" fill="#6a6dc6"/>
<path d="M890,474 L930,487 L975,500 L1000,512 L1003,522 L996,528 L960,512 L920,498 L895,485 Z" fill="#999c30"/>
</g>
<radialGradient id="eyeg" cx="0.38" cy="0.32" r="0.75"><stop offset="0" stop-color="#E0DEE2"/><stop offset="0.6" stop-color="#D0CDD2"/><stop offset="1" stop-color="#ADA7AD"/></radialGradient>
<circle cx="733" cy="653" r="51.5" fill="url(#eyeg)"/>
<ellipse cx="753.6" cy="681.2" rx="22" ry="15" transform="rotate(-35 753.6 681.2)" fill="#3c302d"/>
<ellipse cx="753.6" cy="681.2" rx="18" ry="11.5" transform="rotate(-35 753.6 681.2)" fill="#504038"/>
<ellipse cx="754.8" cy="680.8" rx="6.5" ry="4.5" transform="rotate(-35 754.8 680.8)" fill="#1c1818"/>
<path fill="#6b6dc6" d="M690,537 L680,566 L673,610 L670,637 L676,660 L690,680 L696,688 L701,680 L698,672 L686,656 L680,636 L682,610 L688,566 L696,537 Z"/>
<path fill="#974292" d="M694.6,540 L705.6,540 L712,570 L716.6,603.4 L703.4,607.8 L700,570 Z"/>
<path fill="#9a9b31" d="M703.4,535.2 L716.6,535.2 L732,577 L746.3,629.8 L729.8,634 L714.4,577 Z"/>
<path fill="#198b70" d="M721,541.8 L727.6,539.6 L754,579.2 L784.8,623.2 L787,632 L782.6,636.4 L773.8,623.2 L740.8,583.6 Z"/>
<ellipse cx="705" cy="530" rx="9" ry="7" fill="#919ca3"/>
<path d="M648,716 Q700,742 760,742 Q820,738 862,708" fill="none" stroke="#DDD8DA" stroke-width="10" filter="url(#b2)"/>
<path d="M660,735 Q720,760 790,757 Q840,752 870,730" fill="none" stroke="#c6bebe" stroke-width="8" filter="url(#b4)"/>
<ellipse cx="840" cy="850" rx="40" ry="28" fill="#c1b8b8" filter="url(#b8)"/>
<ellipse cx="870" cy="690" rx="12" ry="40" fill="#c0b6b6" filter="url(#b8)"/>
<path fill="#101318" d="M528.0,660.0 C528.8,653.6 532.8,646.4 540.0,640.0 C547.2,633.6 554.4,631.2 564.0,628.0 C573.6,624.8 576.8,625.6 588.0,624.0 C599.2,622.4 610.4,620.4 620.0,620.0 C629.6,619.6 634.4,618.0 636.0,622.0 C637.6,626.0 632.0,632.4 628.0,640.0 C624.0,647.6 620.0,652.0 616.0,660.0 C612.0,668.0 612.0,672.8 608.0,680.0 C604.0,687.2 602.4,692.4 596.0,696.0 C589.6,699.6 584.8,700.4 576.0,698.0 C567.2,695.6 560.0,689.2 552.0,684.0 C544.0,678.8 540.8,676.8 536.0,672.0 C531.2,667.2 527.2,666.4 528.0,660.0 Z"/>
<path fill="#101318" d="M620.0,426.0 C622.8,425.2 634.5,424.0 645.0,424.0 C655.5,424.0 675.8,423.8 683.0,426.0 C690.2,428.2 688.2,433.7 688.0,437.0 C687.8,440.3 684.2,443.8 682.0,446.0 C679.8,448.2 678.7,450.0 675.0,450.5 C671.3,451.0 663.7,450.6 660.0,449.0 C656.3,447.4 656.3,443.7 653.0,441.0 C649.7,438.3 644.2,435.0 640.0,433.0 C635.8,431.0 631.3,430.2 628.0,429.0 C624.7,427.8 617.2,426.8 620.0,426.0 Z"/>
<path fill="#9e5945" d="M877,730 L890,722 L905,719 L925,720 L945,728 L948,750 L946,775 L935,792 L915,795 L900,785 L890,765 L880,750 Z"/>
<path fill="#a6624e" d="M844,800 L848,785 L860,772 L878,770 L888,780 L890,800 L886,815 L868,818 L850,814 Z"/>
<path fill="#b88679" d="M912,735 L925,732 L937,742 L940,765 L932,782 L920,784 L914,765 Z" filter="url(#b4)"/>
<path fill="#ba8a79" d="M858,790 L870,780 L882,788 L882,806 L870,812 L858,806 Z" filter="url(#b2)"/>
<path d="M905,724 Q920,712 940,722" fill="none" stroke="#cac2c2" stroke-width="5"/>
<path fill="#a6705e" d="M925,652 L935,648 L955,654 L962,666 L950,671 L935,668 L927,660 Z"/>
</g>
<g fill="none" stroke="#ebe2dc" stroke-width="1.4">
<polyline points="221,229.8 362.8,229.8 697,524.5"/>
<polyline points="199,388.6 307.7,388.6 745.5,574.5"/>
<polyline points="203,579 415,579 710,602.3"/>
<polyline points="200,747.3 567.3,747.3 679,634.4"/>
<polyline points="1154.7,226.4 1094,226.4 914.4,488.8"/>
</g>
<g fill="none" stroke="#ffffff" stroke-width="40" stroke-linejoin="miter" stroke-linecap="butt" transform="translate(20,928) scale(0.06)">
<path d="M485,180 L395,125 L215,235 L215,335 L110,395 L110,605 L215,670 L215,790 L390,890 L485,835 Z"/>
<path d="M570,180 L660,125 L840,235 L840,335 L945,395 L945,605 L840,670 L840,790 L665,890 L570,835 Z"/>
<path d="M340,195 L415,240 L415,335 M215,335 L300,285 L415,350 M300,400 L395,455 L485,405 M110,500 L200,450 L200,565 M310,590 L400,540 L485,590 M215,670 L310,725 L410,665 M330,800 L410,755"/>
<path d="M715,195 L640,240 L640,335 M840,335 L755,285 L640,350 M755,400 L660,455 L570,405 M945,500 L855,450 L855,565 M745,590 L655,540 L570,590 M840,670 L745,725 L645,665 M725,800 L645,755"/>
</g>
</svg>
<div class="t" id="title">Recti muscles</div>
<div class="t lbl" style="left:47px;top:215px;color:#ffffff;">Annulus of Zinn</div>
<div class="t lbl" style="left:46px;top:378px;color:#72ab98;">Medial rectus<br>muscle</div>
<div class="t lbl" style="left:46px;top:567px;color:#bd70a2;">Inferior rectus<br>muscle</div>
<div class="t lbl" style="left:46px;top:734px;color:#9592d6;">Lateral rectus<br>muscle</div>
<div class="t lbl" style="left:1157px;top:215px;color:#c4bd78;">Superior rectus<br>muscle</div>
<div class="t" style="left:91px;top:947px;font-size:21px;letter-spacing:1.9px;color:#fff;">Anatomy.app</div>
<div class="t" style="left:613px;top:958px;font-size:23px;letter-spacing:1.5px;color:#fff;-webkit-text-stroke:0.45px #fff;">Anterolateral view</div>
<div class="t" style="left:1392.5px;top:524.5px;font-size:16px;letter-spacing:0px;color:#96979c;transform:translate(-50%,-50%) rotate(-90deg);">Copyrights @ 2022 Anatomy Next, Inc. All rights reserved www.anatomy.app</div>
</body></html>
